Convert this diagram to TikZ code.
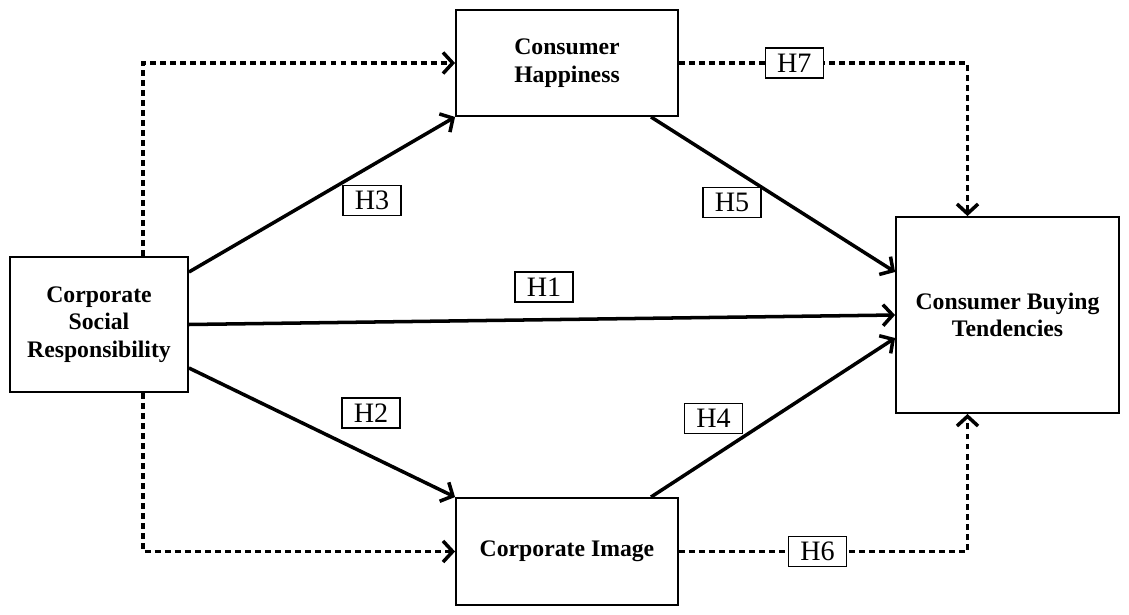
\documentclass[tikz,border=0pt]{standalone}
\usepackage{fontspec}
\setmainfont{Liberation Serif}
\usetikzlibrary{arrows.meta,positioning,calc}

\begin{document}
\begin{tikzpicture}[x=0.02cm, y=-0.02cm,
  construct/.style={draw, line width=1.1pt, align=center, inner sep=0pt,
    font=\fontsize{13.5}{15.6}\selectfont\bfseries},
  hyp/.style={draw, solid, fill=white, line width=0.8pt, inner sep=0pt,
    minimum width=1.16cm, minimum height=0.6cm,
    font=\fontsize{16}{18}\selectfont},
  effect/.style={line width=2pt, -{Straight Barb[length=5.5pt,width=12pt]}},
  indirect/.style={effect, dash pattern=on 3.4pt off 2.3pt}]

\useasboundingbox (0,0) rectangle (1129,615);

% Constructs
\node[construct, minimum width=3.56cm, minimum height=2.7cm]
  (csr) at (99,324.5) {Corporate\\Social\\Responsibility};
\node[construct, minimum width=4.44cm, minimum height=2.12cm]
  (ch) at (567,63) {Consumer\\Happiness};
\node[construct, minimum width=4.44cm, minimum height=2.14cm]
  (ci) at (567,551.5) {Corporate Image};
\node[construct, minimum width=4.46cm, minimum height=3.92cm]
  (cbt) at (1007.5,315) {Consumer Buying\\Tendencies};

% Direct effects
\draw[effect] ($(csr.east)+(0,-52.5)$) -- (ch.south west);
\draw[effect] (csr.east) -- (cbt.west);
\draw[effect] ($(csr.east)+(0,43.5)$) -- (ci.north west);
\draw[effect] ($(ch.south east)+(-28,0)$) -- ($(cbt.west)+(0,-43)$);
\draw[effect] ($(ci.north east)+(-28,0)$) -- ($(cbt.west)+(0,23)$);

% Mediated paths
\draw[indirect] ($(csr.north)+(44,0)$) |- (ch.west);
\draw[indirect] ($(csr.south)+(44,0)$) |- (ci.west);
\draw[indirect] (ch.east) -| ($(cbt.north)+(-40,0)$)
  node[hyp, pos=0.2] (h7) {H7};
\draw[indirect] (ci.east) -| ($(cbt.south)+(-40,0)$)
  node[hyp, pos=0.24] (h6) {H6};

% Hypothesis labels
\node[hyp] (h1) at (544,287) {H1};
\node[hyp] (h2) at (371,413) {H2};
\node[hyp] (h3) at (372,200.5) {H3};
\node[hyp] (h4) at (713.5,418.5) {H4};
\node[hyp] (h5) at (732,202.5) {H5};

\end{tikzpicture}
\end{document}
